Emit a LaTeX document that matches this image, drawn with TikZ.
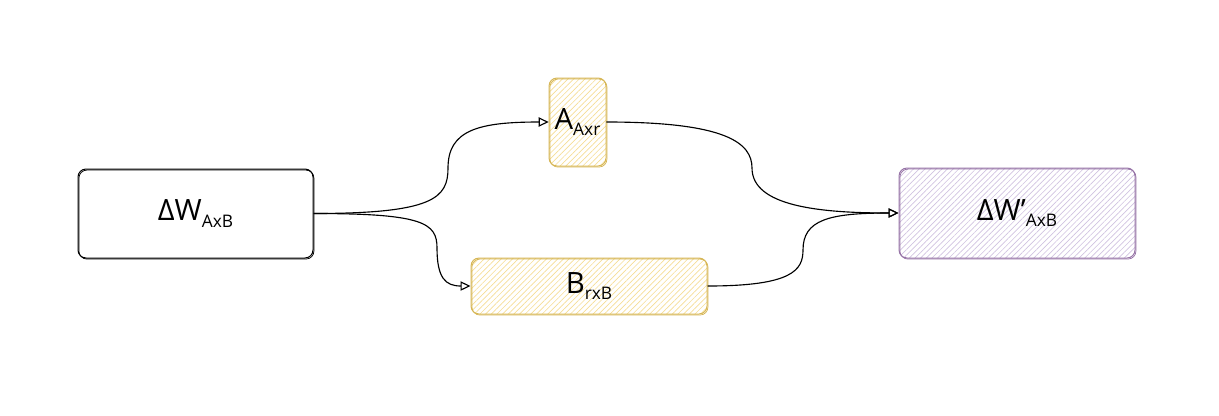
\documentclass[tikz,border=0pt]{standalone}
\usepackage{fontspec}
\setmainfont{Open Sans}
\usetikzlibrary{arrows.meta,patterns.meta}
\definecolor{yfill}{HTML}{F5DD95}
\definecolor{ystroke}{HTML}{D6B656}
\definecolor{pfill}{HTML}{D0C2E0}
\definecolor{pstroke}{HTML}{9673A6}
\tikzset{
  sketchbox/.style={rounded corners=6pt, line width=0.75pt, inner sep=0pt,
    postaction={draw, rounded corners=6pt, line width=0.55pt, transform canvas={xshift=0.7pt,yshift=-0.8pt}}},
  plainbox/.style={sketchbox, draw=black, fill=white},
  yellowbox/.style={sketchbox, draw=ystroke, pattern={Lines[angle=45,distance=3pt,line width=0.5pt]}, pattern color=yfill},
  purplebox/.style={sketchbox, draw=pstroke, pattern={Lines[angle=45,distance=3pt,line width=0.5pt]}, pattern color=pfill},
  conn/.style={line width=0.85pt, -{Triangle[open,length=7.5pt,width=7pt]}},
}
\newcommand\bigtxt[1]{{\fontsize{22}{26}\selectfont #1}}
\newcommand\subtxt[1]{{\fontsize{13}{15}\selectfont\raisebox{-5pt}{#1}}}
\begin{document}
\begin{tikzpicture}[x=0.75pt,y=-0.75pt]
\useasboundingbox (0,0) rectangle (1219,415);
\node[plainbox, minimum width=176.25pt, minimum height=66.75pt] (L) at (195.5,213.5)
  {\bigtxt{ΔW}\subtxt{AxB}};
\node[yellowbox, minimum width=42.75pt, minimum height=66pt] (A) at (577.5,122)
  {\bigtxt{A}\subtxt{Axr}};
\node[yellowbox, minimum width=177pt, minimum height=42pt] (B) at (589,286)
  {\bigtxt{B}\subtxt{rxB}};
\node[purplebox, minimum width=177pt, minimum height=67.5pt] (R) at (1017,213)
  {\bigtxt{ΔW'}\subtxt{AxB}};
\coordinate (m1) at (448,168);
\coordinate (m2) at (437,248);
\coordinate (m3) at (752,168);
\coordinate (m4) at (803,250);
\draw[conn] (L.east) .. controls +(120,0) and +(0,30) .. (m1) .. controls +(0,-38) and +(-70,0) .. (A.west);
\draw[conn] (L.east) .. controls +(110,0) and +(0,-25) .. (m2) .. controls +(0,30) and +(-25,0) .. (B.west);
\draw[conn] (A.east) .. controls +(120,0) and +(0,-25) .. (m3) .. controls +(0,38) and +(-80,0) .. (R.west);
\draw[conn] (B.east) .. controls +(85,0) and +(0,20) .. (m4) .. controls +(0,-30) and +(-70,0) .. (R.west);
\end{tikzpicture}
\end{document}
